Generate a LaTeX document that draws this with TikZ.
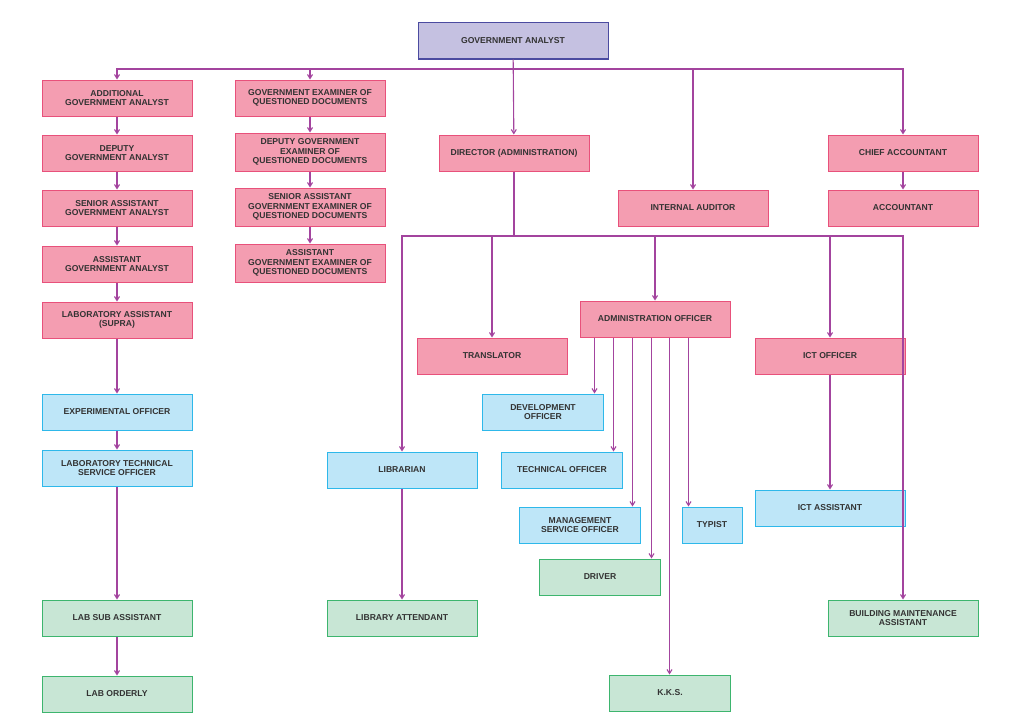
\documentclass[tikz,border=0pt]{standalone}
\usepackage{fontspec}
\setmainfont{Liberation Sans}
\usepackage{xcolor}
\usetikzlibrary{arrows.meta}
\definecolor{linkcol}{HTML}{A3449E}
\definecolor{pinkfill}{HTML}{F49DB1}
\definecolor{pinkline}{HTML}{E8517B}
\definecolor{bluefill}{HTML}{BEE6F8}
\definecolor{blueline}{HTML}{2EB8EA}
\definecolor{greenfill}{HTML}{C8E6D5}
\definecolor{greenline}{HTML}{3DB56E}
\definecolor{topfill}{HTML}{C5C1E1}
\definecolor{topline}{HTML}{4B4BA0}

\begin{document}
\begin{tikzpicture}[x=1pt,y=-1pt,
    box/.style={draw,line width=1pt,minimum width=150pt,minimum height=36pt,inner sep=1pt,
                align=center,font=\fontsize{8.6}{9.6}\selectfont\bfseries,text=black!80},
    top node/.style={box,fill=topfill,draw=topline,minimum width=190pt},
    pink node/.style={box,fill=pinkfill,draw=pinkline},
    blue node/.style={box,fill=bluefill,draw=blueline},
    green node/.style={box,fill=greenfill,draw=greenline},
    link/.style={->,>={Straight Barb[length=4pt,width=5pt]},draw=linkcol,line width=1.1pt}]
  \useasboundingbox (0,0) rectangle (1024,725);
  % top
  \node[top node] (ga) at (513,41) {GOVERNMENT ANALYST};
  % analyst line
  \node[pink node] (addga) at (117,98) {ADDITIONAL\\GOVERNMENT ANALYST};
  \node[pink node] (depga) at (117,153) {DEPUTY\\GOVERNMENT ANALYST};
  \node[pink node] (sasga) at (117,208) {SENIOR ASSISTANT\\GOVERNMENT ANALYST};
  \node[pink node] (asga) at (117,264) {ASSISTANT\\GOVERNMENT ANALYST};
  \node[pink node] (labasst) at (117,320) {LABORATORY ASSISTANT\\(SUPRA)};
  \node[blue node] (expoff) at (117,412) {EXPERIMENTAL OFFICER};
  \node[blue node] (ltso) at (117,468) {LABORATORY TECHNICAL\\SERVICE OFFICER};
  \node[green node] (labsub) at (117,618) {LAB SUB ASSISTANT};
  \node[green node] (laborderly) at (117,694) {LAB ORDERLY};
  % examiner line
  \node[pink node] (geqd) at (310,98) {GOVERNMENT EXAMINER OF\\QUESTIONED DOCUMENTS};
  \node[pink node,minimum height=38pt] (dgeqd) at (310,152) {DEPUTY GOVERNMENT\\EXAMINER OF\\QUESTIONED DOCUMENTS};
  \node[pink node,minimum height=38pt] (sageqd) at (310,207) {SENIOR ASSISTANT\\GOVERNMENT EXAMINER OF\\QUESTIONED DOCUMENTS};
  \node[pink node,minimum height=38pt] (ageqd) at (310,263) {ASSISTANT\\GOVERNMENT EXAMINER OF\\QUESTIONED DOCUMENTS};
  % administration
  \node[pink node] (dir) at (514,153) {DIRECTOR (ADMINISTRATION)};
  \node[pink node] (auditor) at (693,208) {INTERNAL AUDITOR};
  \node[pink node] (chiefacc) at (903,153) {CHIEF ACCOUNTANT};
  \node[pink node] (acc) at (903,208) {ACCOUNTANT};
  \node[pink node] (transl) at (492,356) {TRANSLATOR};
  \node[pink node] (admin) at (655,319) {ADMINISTRATION OFFICER};
  \node[pink node] (ict) at (830,356) {ICT OFFICER};
  \node[blue node] (ictasst) at (830,508) {ICT ASSISTANT};
  \node[blue node] (lib) at (402,470) {LIBRARIAN};
  \node[green node] (libatt) at (402,618) {LIBRARY ATTENDANT};
  \node[blue node,minimum width=121pt] (dev) at (543,412) {DEVELOPMENT\\OFFICER};
  \node[blue node,minimum width=121pt] (tech) at (562,470) {TECHNICAL OFFICER};
  \node[blue node,minimum width=121pt] (mso) at (580,525) {MANAGEMENT\\SERVICE OFFICER};
  \node[green node,minimum width=121pt] (driver) at (600,577) {DRIVER};
  \node[blue node,minimum width=60pt] (typist) at (712,525) {TYPIST};
  \node[green node,minimum width=121pt] (kks) at (670,693) {K.K.S.};
  \node[green node] (bma) at (903,618) {BUILDING MAINTENANCE\\ASSISTANT};

  \coordinate (bus) at (513,69);
  \coordinate (dbus) at (514,236);
  %
  \draw[link] (ga) -- (dir);
  \foreach \t in {addga,geqd,auditor,chiefacc}
    \draw[link] (bus) -| (\t);
  \draw[link] (addga) -- (depga);
  \draw[link] (depga) -- (sasga);
  \draw[link] (sasga) -- (asga);
  \draw[link] (asga) -- (labasst);
  \draw[link] (labasst) -- (expoff);
  \draw[link] (expoff) -- (ltso);
  \draw[link] (ltso) -- (labsub);
  \draw[link] (labsub) -- (laborderly);
  \draw[link] (geqd) -- (dgeqd);
  \draw[link] (dgeqd) -- (sageqd);
  \draw[link] (sageqd) -- (ageqd);
  \draw[link] (chiefacc) -- (acc);
  %
  \draw[draw=linkcol,line width=1.1pt] (dir) -- (dbus);
  \foreach \t in {lib,transl,admin,ict}
    \draw[link] (dbus) -| (\t);
  \draw[link] (dbus) -| (bma);
  \draw[link] (lib) -- (libatt);
  \draw[link] (ict) -- (ictasst);
  %
  \foreach \dx/\t in {15/dev,34/tech,53/mso,72/driver,90/kks,109/typist}
    \draw[link] ([xshift=\dx pt]admin.south west) -- ([xshift=\dx pt]admin.south west |- \t.north);
\end{tikzpicture}
\end{document}
